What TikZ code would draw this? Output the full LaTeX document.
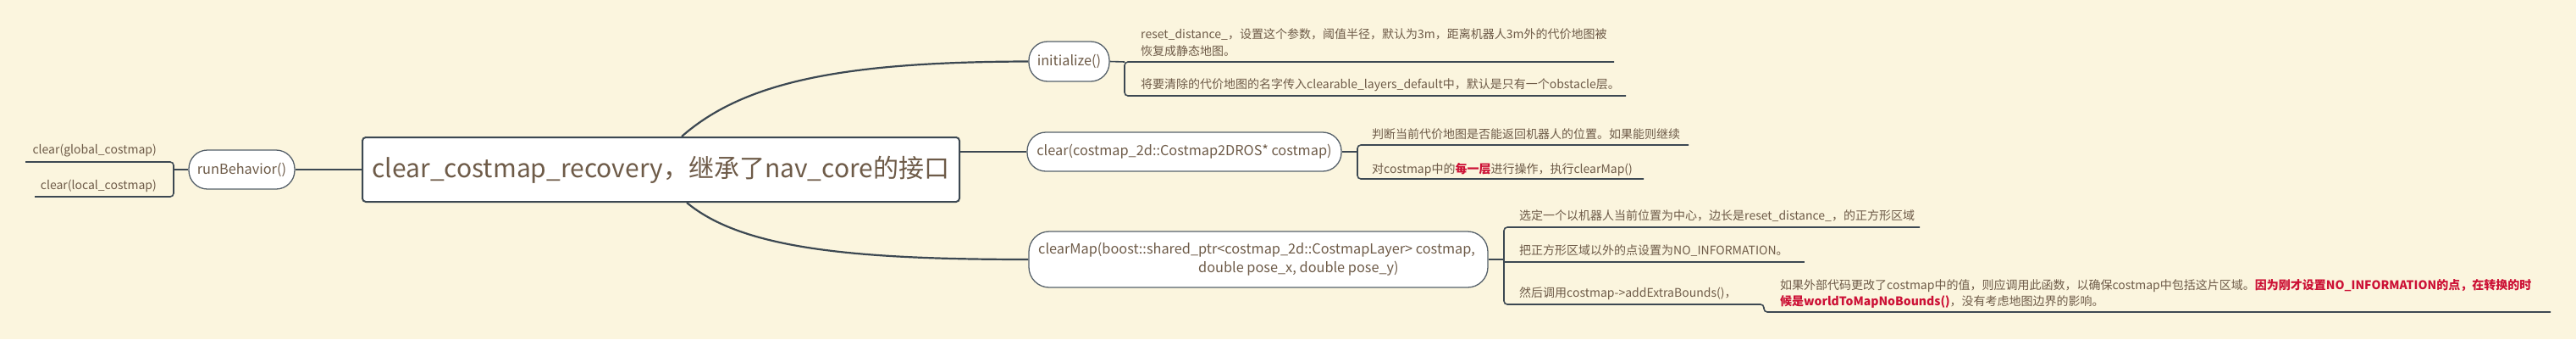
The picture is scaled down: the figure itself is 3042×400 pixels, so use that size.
\documentclass[tikz,border=0pt]{standalone}
\usepackage{fontspec}
\setmainfont{Noto Sans CJK SC}
\usetikzlibrary{calc}
\definecolor{bgc}{HTML}{FBF5DE}
\definecolor{txt}{HTML}{6E5B48}
\definecolor{ln}{HTML}{3C4852}
\definecolor{bd}{HTML}{56616B}
\definecolor{hl}{HTML}{CC1035}
\tikzset{
 topic/.style={draw=bd, fill=white, line width=1.3pt, rounded corners=22pt, text=txt, font=\fontsize{16.3}{20}\selectfont, inner sep=0pt},
 root/.style={draw=ln, fill=white, line width=2pt, rounded corners=4pt, text=txt, font=\fontsize{30}{36}\selectfont, inner sep=0pt},
 leaf/.style={text=txt, font=\fontsize{14}{17}\selectfont, inner sep=0pt, anchor=west},
 topictext/.style={text=txt, font=\fontsize{16.3}{20}\selectfont, inner sep=0pt, anchor=west},
 main/.style={draw=ln, line width=2.2pt},
 br/.style={draw=ln, line width=1.6pt, rounded corners=4pt},
}
\begin{document}
\begin{tikzpicture}[x=1pt,y=-1pt]
\fill[bgc] (0,0) rectangle (3042,400);
\useasboundingbox (0,0) rectangle (3042,400);

% nodes
\node[root, minimum width=705pt, minimum height=76pt] (ctr) at (780.5,200) {clear\_costmap\_recovery，继承了nav\_core的接口};
\node[topic, minimum width=125pt, minimum height=46pt] (rb) at (285.5,200) {runBehavior()};
\node[topic, minimum width=95pt, minimum height=47pt] (init) at (1262.5,72.5) {initialize()};
\node[topic, minimum width=371pt, minimum height=46pt] (cc) at (1398.5,179) {clear(costmap\_2d::Costmap2DROS* costmap)};
\node[topic, minimum width=542pt, minimum height=66pt, rounded corners=24pt] (cm) at (1486,306) {};
\node[topictext] (cmA) at (1226,295) {clearMap(boost::shared\_ptr<costmap\_2d::CostmapLayer> costmap,};
\node[topictext] (cmB) at (1415,317) {double pose\_x, double pose\_y)};

% left leaves
\node[leaf, anchor=east] (gl) at (185,178) {clear(global\_costmap)};
\node[leaf, anchor=east] (lo) at (185,219) {clear(local\_costmap)};

% initialize leaves
\node[leaf] (iA) at (1347,41) {reset\_distance\_，设置这个参数，阈值半径，默认为3m，距离机器人3m外的代价地图被};
\node[leaf] (iB) at (1347,60) {恢复成静态地图。};
\node[leaf] (iC) at (1347,100) {将要清除的代价地图的名字传入clearable\_layers\_default中，默认是只有一个obstacle层。};

% clear leaves
\node[leaf] (cA) at (1620,158) {判断当前代价地图是否能返回机器人的位置。如果能则继续};
\node[leaf] (cB) at (1620,200) {对costmap中的{\color{hl}\bfseries 每一层}进行操作，执行clearMap()};

% clearMap leaves
\node[leaf] (mA) at (1794,255) {选定一个以机器人当前位置为中心，边长是reset\_distance\_，的正方形区域};
\node[leaf] (mB) at (1794,296) {把正方形区域以外的点设置为NO\_INFORMATION。};
\node[leaf] (mC) at (1794,346) {然后调用costmap->addExtraBounds()，};
\node[leaf] (mD1) at (2102,337) {如果外部代码更改了costmap中的值，则应调用此函数，以确保costmap中包括这片区域。{\color{hl}\bfseries 因为刚才设置NO\_INFORMATION的点，在转换的时}};
\node[leaf] (mD2) at (2102,356) {{\color{hl}\bfseries 候是worldToMapNoBounds()}，没有考虑地图边界的影响。};

% junctions and underline ends
\coordinate (jL) at (205,200);
\coordinate (gE) at (30,191);
\coordinate (lE) at (41,232);
\coordinate (jI) at (1328,73);
\coordinate (i1) at (1906,73);
\coordinate (i2) at (1920,113);
\coordinate (jC) at (1603,179);
\coordinate (c1) at (1994,171);
\coordinate (c2) at (1941,211);
\coordinate (jM) at (1776,306);
\coordinate (m1) at (2267,268);
\coordinate (m2) at (2131,309);
\coordinate (m3) at (2083,359);
\coordinate (m4) at (3012,368);

% main connectors
\draw[main] (rb.east) -- (ctr.west);
\draw[main] ($(ctr.north)+(24.5,0)$) .. controls (880,95) and (1000,73) .. (init.west);
\draw[main] (ctr.east |- cc.west) -- (cc.west);
\draw[main] ($(ctr.south)+(30.5,0)$) .. controls (875,292) and (1000,306) .. (cm.west);

% left bracket
\draw[br] (rb.west) -- (jL);
\draw[br] (gE) -- (gE -| jL) -- (lE -| jL) -- (lE);

% initialize bracket
\draw[br] (init.east) -- (jI);
\draw[br] (i1) -- (jI) -- (jI |- i2) -- (i2);

% clear bracket
\draw[br] (cc.east) -- (jC);
\draw[br] (c1) -- (c1 -| jC) -- (c2 -| jC) -- (c2);

% clearMap bracket
\draw[br] (cm.east) -- (jM);
\draw[br] (m1) -- (m1 -| jM) -- (m3 -| jM) -- (m3) -- (m3 |- m4) -- (m4);
\draw[br] (jM |- m2) -- (m2);
\end{tikzpicture}
\end{document}
